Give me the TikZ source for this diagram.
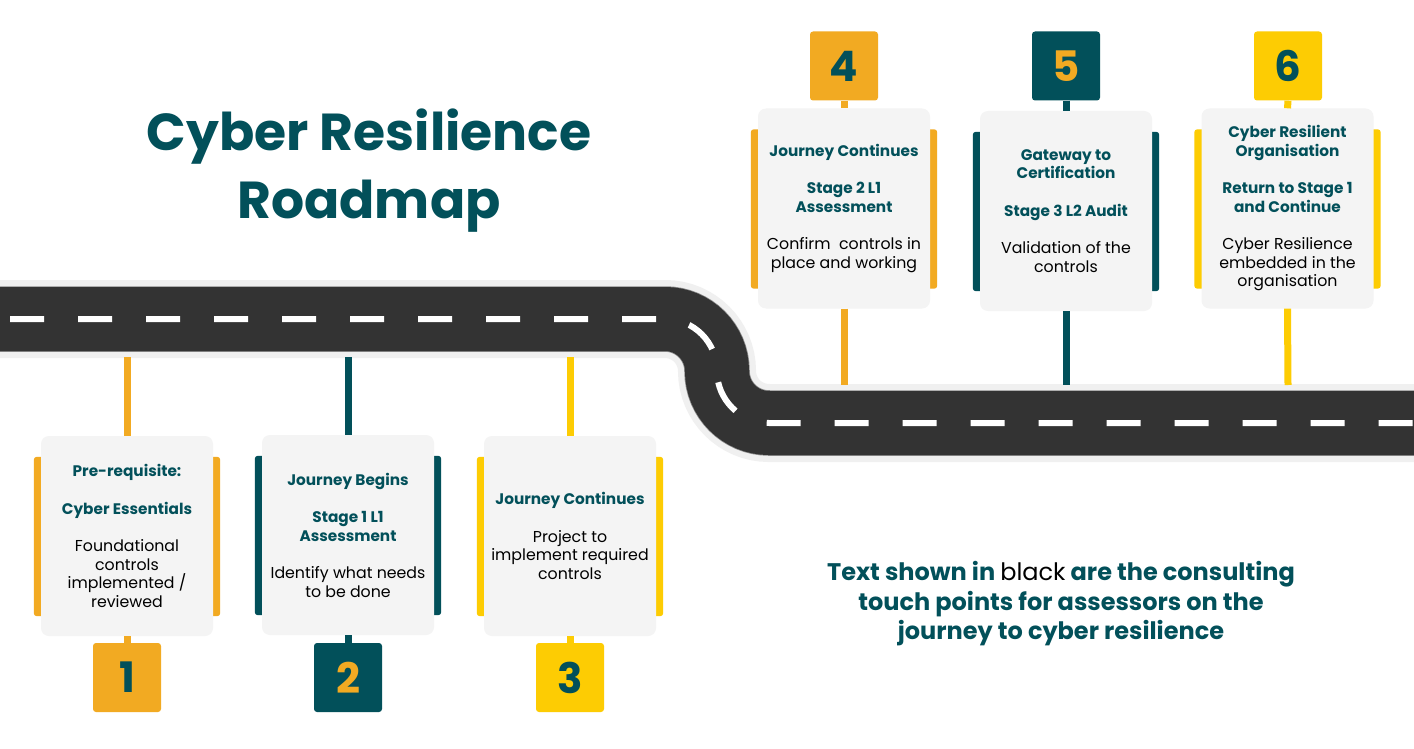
\documentclass[tikz,border=0pt]{standalone}
\usepackage{fontspec}
\setmainfont{Poppins}
\usetikzlibrary{calc}
\definecolor{cteal}{HTML}{02505A}
\definecolor{corange}{HTML}{F2AA22}
\definecolor{cyellow}{HTML}{FDCC03}
\definecolor{cbox}{HTML}{F4F4F4}
\definecolor{croad}{HTML}{333333}
\definecolor{cedge}{HTML}{F0F0F0}
\pgfdeclarelayer{back}
\pgfdeclarelayer{bg}
\pgfsetlayers{back,bg,main}
\newcommand{\hd}[1]{{\fontsize{15.3pt}{18.5pt}\selectfont\bfseries\color{cteal}#1}}
\begin{document}
\begin{tikzpicture}[x=1pt,y=-1pt,
  card/.style={fill=cbox, rounded corners=8pt, minimum width=172pt, minimum height=200pt,
    inner sep=0pt, align=center, text=black, font=\fontsize{15.8pt}{18.5pt}\selectfont},
  numsq/.style={rounded corners=3pt, minimum width=68pt, minimum height=69pt, inner sep=0pt,
    font=\fontsize{42pt}{42pt}\selectfont\bfseries},
  conn/.style={line width=7pt},
  barfill/.style={rounded corners=3pt}]
\begin{pgfonlayer}{back}
\fill[white] (0,0) rectangle (1414,749);
\end{pgfonlayer}
\useasboundingbox (0,0) rectangle (1414,749);

% road
\draw[cedge, line width=78pt, rounded corners=52pt] (-40,319) -- (717,319) -- (717,423) -- (1454,423);
\draw[black!45, line width=65.5pt, rounded corners=52pt] (-40,319) -- (717,319) -- (717,423) -- (1454,423);
\draw[croad, line width=64pt, rounded corners=52pt] (-40,319) -- (717,319) -- (717,423) -- (1454,423);
\draw[white, line width=6pt, dash pattern=on 34pt off 34pt, dash phase=58pt, rounded corners=52pt]
  (0,319) -- (717,319) -- (717,423) -- (1414,423);

% title
\node[text=cteal, font=\fontsize{52pt}{68pt}\selectfont\bfseries, align=center] (title) at (369,171)
  {Cyber Resilience\\Roadmap};

% cards
\node[card] (b1) at (127,536) {\hd{Pre-requisite:}\\[19pt]\hd{Cyber Essentials}\\[19pt]Foundational\\controls\\implemented /\\reviewed};
\node[card] (b2) at (348,535) {\hd{Journey Begins}\\[19pt]\hd{Stage 1 L1}\\\hd{Assessment}\\[19pt]Identify what needs\\to be done};
\node[card] (b3) at (570,536) {\hd{Journey Continues}\\[19pt]Project to\\implement required\\controls};
\node[card] (b4) at (844,208.5) {\hd{Journey Continues}\\[19pt]\hd{Stage 2 L1}\\\hd{Assessment}\\[19pt]Confirm\ \ controls in\\place and working};
\node[card] (b5) at (1066,211) {\hd{Gateway to}\\\hd{Certification}\\[19pt]\hd{Stage 3 L2 Audit}\\[19pt]Validation of the\\controls};
\node[card] (b6) at (1287.5,208.5) {\hd{Cyber Resilient}\\\hd{Organisation}\\[19pt]\hd{Return to Stage 1}\\\hd{and Continue}\\[19pt]Cyber Resilience\\embedded in the\\organisation};

% number squares
\node[numsq, fill=corange, text=cteal] (s1) at (127,677.5) {1};
\node[numsq, fill=cteal, text=corange] (s2) at (348,677.5) {2};
\node[numsq, fill=cyellow, text=cteal] (s3) at (570,677.5) {3};
\node[numsq, fill=corange, text=cteal] (s4) at (844,66) {4};
\node[numsq, fill=cteal, text=corange] (s5) at (1066,66) {5};
\node[numsq, fill=cyellow, text=cteal] (s6) at (1288,66) {6};

% side bars
\begin{pgfonlayer}{bg}
\foreach \b/\c in {b1/corange,b2/cteal,b3/cyellow,b4/corange,b5/cteal,b6/cyellow}{
  \fill[\c, barfill] ($(\b.north west)+(-7,21)$) rectangle ($(\b.south west)+(4,-20)$);
  \fill[\c, barfill] ($(\b.north east)+(-4,21)$) rectangle ($(\b.south east)+(7,-20)$);
}
\end{pgfonlayer}

% road anchor points
\coordinate (r1) at (127,357);
\coordinate (r2) at (348,357);
\coordinate (r3) at (570,357);
\coordinate (r4) at (844,385);
\coordinate (r5) at (1066,385);
\coordinate (r6) at (1288,385);

% connectors
\draw[conn, corange] (r1) -- (b1.north);
\draw[conn, corange] (b1.south) -- (s1.north);
\draw[conn, cteal] (r2) -- (b2.north);
\draw[conn, cteal] (b2.south) -- (s2.north);
\draw[conn, cyellow] (r3) -- (b3.north);
\draw[conn, cyellow] (b3.south) -- (s3.north);
\draw[conn, corange] (s4.south) -- (b4.north);
\draw[conn, corange] (b4.south) -- (r4);
\draw[conn, cteal] (s5.south) -- (b5.north);
\draw[conn, cteal] (b5.south) -- (r5);
\draw[conn, cyellow] (s6.south) -- (b6.north);
\draw[conn, cyellow] (b6.south) -- (r6);

% note
\node[text=cteal, font=\fontsize{24pt}{29.5pt}\selectfont\bfseries, align=center] (note) at (1061,604)
  {Text shown in {\mdseries\color{black}black} are the consulting\\touch points for assessors on the\\journey to cyber resilience};
\end{tikzpicture}
\end{document}
